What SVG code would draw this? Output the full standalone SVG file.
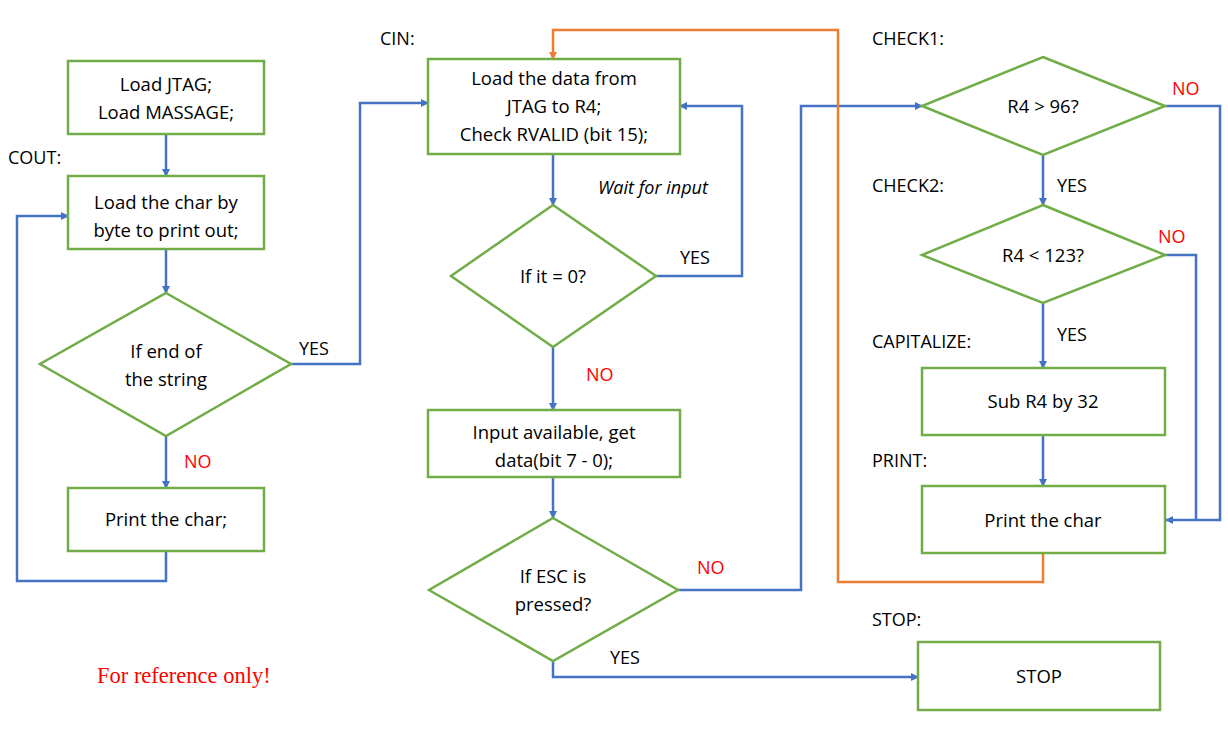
<svg xmlns="http://www.w3.org/2000/svg" width="1228" height="742" viewBox="0 0 1228 742">
<defs>
<marker id="a" markerWidth="8" markerHeight="8" refX="7" refY="4" orient="auto" markerUnits="userSpaceOnUse"><path d="M0,0 L8,4 L0,8 Z" fill="#4472C4"/></marker>
<marker id="o" markerWidth="8" markerHeight="8" refX="7" refY="4" orient="auto" markerUnits="userSpaceOnUse"><path d="M0,0 L8,4 L0,8 Z" fill="#ED7D31"/></marker>
</defs>
<style>
.n{fill:#fff;stroke:#70AD47;stroke-width:2.5}
.c{fill:none;stroke:#4472C4;stroke-width:2.5}
.t{font-family:"Open Sans","Liberation Sans",sans-serif;font-size:18.5px;fill:#000;text-anchor:middle}
.l{font-family:"Open Sans","Liberation Sans",sans-serif;font-size:18px;fill:#000}
.r{font-family:"Open Sans","Liberation Sans",sans-serif;font-size:18px;fill:#FF0000}
</style>
<rect width="1228" height="742" fill="#fff"/>
<g id="connectors">
<path class="c" d="M166,134 V176" marker-end="url(#a)"/>
<path class="c" d="M166,249 V293" marker-end="url(#a)"/>
<path class="c" d="M166,436 V488" marker-end="url(#a)"/>
<path class="c" d="M166,551 V581 H17 V216 H68" marker-end="url(#a)"/>
<path class="c" d="M291,364 H360 V103 H428" marker-end="url(#a)"/>
<path class="c" d="M553,154 V205" marker-end="url(#a)"/>
<path class="c" d="M656,276 H742 V106 H680" marker-end="url(#a)"/>
<path class="c" d="M553,347 V410" marker-end="url(#a)"/>
<path class="c" d="M553,477 V518" marker-end="url(#a)"/>
<path class="c" d="M678,590 H801 V106 H922" marker-end="url(#a)"/>
<path class="c" d="M553,661 V677 H918" marker-end="url(#a)"/>
<path class="c" d="M1165,106 H1220 V520 H1166" marker-end="url(#a)"/>
<path class="c" d="M1043,155 V205" marker-end="url(#a)"/>
<path class="c" d="M1165,255 H1196 V520"/>
<path class="c" d="M1043,303 V368" marker-end="url(#a)"/>
<path class="c" d="M1043,435 V486" marker-end="url(#a)"/>
<path d="M1043,553 V582 H838 V30 H553 V59" fill="none" stroke="#ED7D31" stroke-width="2.5" marker-end="url(#o)"/>
</g>
<g id="n1"><rect class="n" x="68" y="61" width="196" height="73"/><text class="t" x="166" y="91">Load JTAG;</text><text class="t" x="166" y="119">Load MASSAGE;</text></g>
<g id="n2"><rect class="n" x="68" y="176" width="196" height="73"/><text class="t" x="166" y="209">Load the char by</text><text class="t" x="166" y="237">byte to print out;</text></g>
<g id="n3"><polygon class="n" points="166,293 291,364 166,436 40,364"/><text class="t" x="166" y="358">If end of</text><text class="t" x="166" y="386">the string</text></g>
<g id="n4"><rect class="n" x="68" y="488" width="196" height="63"/><text class="t" x="166" y="526">Print the char;</text></g>
<g id="n5"><rect class="n" x="428" y="59" width="252" height="95"/><text class="t" x="554" y="85">Load the data from</text><text class="t" x="554" y="113">JTAG to R4;</text><text class="t" x="554" y="141">Check RVALID (bit 15);</text></g>
<g id="n6"><polygon class="n" points="553,205 656,276 553,347 451,276"/><text class="t" x="553" y="283">If it = 0?</text></g>
<g id="n7"><rect class="n" x="428" y="410" width="252" height="67"/><text class="t" x="554" y="439">Input available, get</text><text class="t" x="554" y="467">data(bit 7 - 0);</text></g>
<g id="n8"><polygon class="n" points="553,518 678,590 553,661 429,590"/><text class="t" x="553" y="583">If ESC is</text><text class="t" x="553" y="611">pressed?</text></g>
<g id="n9"><polygon class="n" points="1043,57 1165,106 1043,155 922,106"/><text class="t" x="1043" y="113">R4 &gt; 96?</text></g>
<g id="n10"><polygon class="n" points="1043,205 1165,255 1043,303 922,255"/><text class="t" x="1043" y="262">R4 &lt; 123?</text></g>
<g id="n11"><rect class="n" x="922" y="368" width="243" height="67"/><text class="t" x="1043" y="408">Sub R4 by 32</text></g>
<g id="n12"><rect class="n" x="922" y="486" width="243" height="67"/><text class="t" x="1043" y="527">Print the char</text></g>
<g id="n13"><rect class="n" x="918" y="642" width="242" height="68"/><text class="t" x="1039" y="683">STOP</text></g>
<g id="labels">
<text class="l" x="8" y="164">COUT:</text>
<text class="l" x="380" y="45">CIN:</text>
<text class="l" x="872" y="45">CHECK1:</text>
<text class="l" x="872" y="192">CHECK2:</text>
<text class="l" x="872" y="348">CAPITALIZE:</text>
<text class="l" x="872" y="467">PRINT:</text>
<text class="l" x="872" y="626">STOP:</text>
<text class="l" x="299" y="355">YES</text>
<text class="r" x="184" y="468">NO</text>
<text class="l" x="598" y="194" font-style="italic">Wait for input</text>
<text class="l" x="680" y="264">YES</text>
<text class="r" x="586" y="381">NO</text>
<text class="r" x="697" y="574">NO</text>
<text class="l" x="610" y="664">YES</text>
<text class="r" x="1172" y="95">NO</text>
<text class="l" x="1057" y="192">YES</text>
<text class="r" x="1158" y="243">NO</text>
<text class="l" x="1057" y="341">YES</text>
<text x="97" y="683" font-family="'Liberation Serif',serif" font-size="22.5" fill="#FF0000">For reference only!</text>
</g>
</svg>
